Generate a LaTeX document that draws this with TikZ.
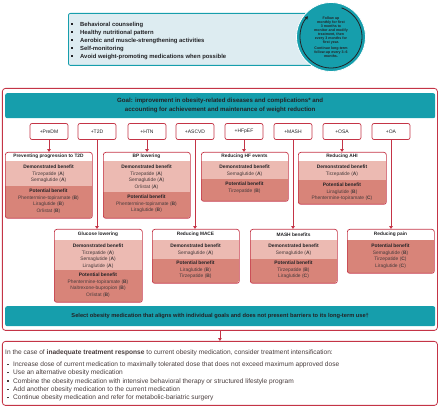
\documentclass[tikz,border=0pt]{standalone}
\usepackage{fontspec}
\setmainfont{Liberation Sans}
\usetikzlibrary{arrows.meta,positioning,calc}
\definecolor{obRed}{RGB}{196,52,70}
\definecolor{obTeal}{RGB}{22,158,172}
\definecolor{obLight}{RGB}{221,236,241}
\definecolor{demoFill}{RGB}{236,186,178}
\definecolor{potFill}{RGB}{216,132,121}
\definecolor{obText}{RGB}{35,35,38}
\definecolor{obGray}{RGB}{72,60,60}
\tikzset{
  tagbox/.style={draw=obRed, line width=0.7pt, fill=white, rounded corners=2pt, minimum width=38pt, minimum height=16pt, inner sep=0pt, font=\fontsize{5}{6}\selectfont, text=obText},
  panel/.style={draw=obRed, line width=0.7pt, rounded corners=2.5pt, inner sep=0pt, anchor=north west},
  paneltitle/.style={font=\bfseries\fontsize{4.8}{6}\selectfont, text=obText, inner sep=0pt},
  sect/.style={font=\fontsize{4.9}{6.5}\selectfont, align=center, text=obGray, inner sep=0pt, anchor=north},
  banner/.style={fill=obTeal, rounded corners=2pt, inner sep=0pt, anchor=north west, align=center, text=obText},
  arr/.style={obRed, line width=0.7pt, -{Triangle[width=3.4pt,length=2.8pt]}},
}
\newcommand{\hd}[1]{{\bfseries\color{obText}#1}}
\newcommand{\grade}[1]{(\textbf{#1})}
\newcommand{\lb}{\makebox[9pt][l]{\rule[1.3pt]{1.6pt}{1.6pt}}}
\newcommand{\bb}{\makebox[6pt][l]{\rule[1.4pt]{1.5pt}{1.5pt}}}
\newcommand{\tagNode}[3]{%
    \node[tagbox] (#1) at (#2,131.5) {#3};
}
% name, x left, y top, x right, y bottom, demo top, potential top, title
\newcommand{\benefitPanel}[8]{%
    \begin{scope}
      \clip[rounded corners=2.5pt] (#2,#3) rectangle (#4,#5);
      \fill[demoFill] (#2,#6) rectangle (#4,#7);
      \fill[potFill] (#2,#7) rectangle (#4,#5);
    \end{scope}
    \node[panel, minimum width={#4pt-#2pt}, minimum height={#5pt-#3pt}] (#1) at (#2,#3) {};
    \node[paneltitle] (#1T) at ($(#2,#3)!0.5!(#4,#6)$) {#8};
}

\begin{document}
\begin{tikzpicture}[x=1pt,y=-1pt]
    \useasboundingbox (0,0) rectangle (440,406);
    %lifestyle
    \node[draw=obTeal, line width=0.8pt, fill=obLight, rounded corners=2pt, minimum width=247pt, minimum height=52pt, anchor=north west] (life) at (68,13) {};
    \node[anchor=north west, inner sep=0pt, align=left, text=obText, font=\bfseries\fontsize{5.9}{8}\selectfont] (lifeList) at (71,21.8)
      {\lb Behavioral counseling\\\lb Healthy nutritional pattern\\\lb Aerobic and muscle-strengthening activities\\\lb Self-monitoring\\\lb Avoid weight-promoting medications when possible};
    \node[circle, fill=obTeal, draw=white, line width=0.8pt, minimum size=69pt, inner sep=0pt] (follow) at (331,37) {};
    \draw[obText, line width=0.8pt, -{Triangle[width=3.4pt,length=3pt]}] ([shift={(70:31pt)}]follow.center) arc[start angle=70, end angle=-222, radius=31pt];
    \node[align=center, inner sep=0pt, text=obText, font=\bfseries\fontsize{3.6}{4}\selectfont] (followTxt) at (follow.center)
      {Follow up\\monthly for first\\3 months to\\monitor and modify\\treatment, then\\every 3 months for\\first year.\\[2pt]Continue long-term\\follow-up every 3--6\\months.};
    %frame
    \node[draw=obRed, line width=0.8pt, rounded corners=3pt, minimum width=435pt, minimum height=242pt, anchor=north west, inner sep=0pt] (frame) at (2,88) {};
    \node[banner, minimum width=430pt, minimum height=25pt, font=\bfseries\fontsize{6.1}{9}\selectfont] (goal) at (5,93)
      {Goal: improvement in obesity-related diseases and complications* and\\accounting for achievement and maintenance of weight reduction};
    %tags
    \tagNode{tPreDM}{49}{+PreDM}
    \tagNode{tT2D}{97}{+T2D}
    \tagNode{tHTN}{147}{+HTN}
    \tagNode{tASCVD}{195}{+ASCVD}
    \tagNode{tHFpEF}{244}{+HFpEF}
    \tagNode{tMASH}{293}{+MASH}
    \tagNode{tOSA}{342}{+OSA}
    \tagNode{tOA}{391}{+OA}
    %row 1
    \benefitPanel{pPre}{5}{152}{92}{218}{161}{186}{Preventing progression to T2D}
    \node[sect] (pPreD) at (48.5,165.2) {\hd{Demonstrated benefit}\\Tirzepatide \grade{A}\\Semaglutide \grade{A}};
    \node[sect] (pPreP) at (48.5,189.2) {\hd{Potential benefit}\\Phentermine-topiramate \grade{B}\\Liraglutide \grade{B}\\Orlistat \grade{B}};
    \benefitPanel{pBP}{103}{152}{190}{218}{161}{192}{BP lowering}
    \node[sect] (pBPD) at (146.5,165.2) {\hd{Demonstrated benefit}\\Tirzepatide \grade{A}\\Semaglutide \grade{A}\\Orlistat \grade{A}};
    \node[sect] (pBPP) at (146.5,195.2) {\hd{Potential benefit}\\Phentermine-topiramate \grade{B}\\Liraglutide \grade{B}};
    \benefitPanel{pHF}{201}{152}{288}{201}{161}{179}{Reducing HF events}
    \node[sect] (pHFD) at (244.5,165.2) {\hd{Demonstrated benefit}\\Semaglutide \grade{A}};
    \node[sect] (pHFP) at (244.5,182.2) {\hd{Potential benefit}\\Tirzepatide \grade{B}};
    \benefitPanel{pAHI}{298}{152}{386}{204}{161}{180}{Reducing AHI}
    \node[sect] (pAHID) at (342,165.2) {\hd{Demonstrated benefit}\\Tirzepatide \grade{A}};
    \node[sect] (pAHIP) at (342,183.2) {\hd{Potential benefit}\\Liraglutide \grade{B}\\Phentermine-topiramate \grade{C}};
    %row 2
    \benefitPanel{pGlu}{54}{229}{142}{302}{240}{270}{Glucose lowering}
    \node[sect] (pGluD) at (98,244.2) {\hd{Demonstrated benefit}\\Tirzepatide \grade{A}\\Semaglutide \grade{A}\\Liraglutide \grade{A}};
    \node[sect] (pGluP) at (98,273.2) {\hd{Potential benefit}\\Phentermine-topiramate \grade{B}\\Naltrexone-bupropion \grade{B}\\Orlistat \grade{B}};
    \benefitPanel{pMACE}{152}{229}{239}{283}{240}{259}{Reducing MACE}
    \node[sect] (pMACED) at (195.5,244.2) {\hd{Demonstrated benefit}\\Semaglutide \grade{A}};
    \node[sect] (pMACEP) at (195.5,261.2) {\hd{Potential benefit}\\Liraglutide \grade{B}\\Tirzepatide \grade{B}};
    \benefitPanel{pMASH}{250}{229}{337}{283}{240}{259}{MASH benefits}
    \node[sect] (pMASHD) at (293.5,244.2) {\hd{Demonstrated benefit}\\Semaglutide \grade{A}};
    \node[sect] (pMASHP) at (293.5,261.2) {\hd{Potential benefit}\\Tirzepatide \grade{B}\\Liraglutide \grade{C}};
    \benefitPanel{pPain}{347}{229}{434}{273}{240}{240}{Reducing pain}
    \node[sect] (pPainP) at (390.5,244.2) {\hd{Potential benefit}\\Semaglutide \grade{B}\\Tirzepatide \grade{C}\\Liraglutide \grade{C}};
    %connectors
    \draw[arr] (tPreDM.south) -- (tPreDM.south |- pPre.north);
    \draw[arr] (tT2D.south) -- (tT2D.south |- pGlu.north);
    \draw[arr] (tHTN.south) -- (tHTN.south |- pBP.north);
    \draw[arr] (tASCVD.south) -- (tASCVD.south |- pMACE.north);
    \draw[arr] (tHFpEF.south) -- (tHFpEF.south |- pHF.north);
    \draw[arr] (tMASH.south) -- (tMASH.south |- pMASH.north);
    \draw[arr] (tOSA.south) -- (tOSA.south |- pAHI.north);
    \draw[arr] (tOA.south) -- (tOA.south |- pPain.north);
    %select
    \node[banner, minimum width=430pt, minimum height=20pt, font=\bfseries\fontsize{5.7}{7}\selectfont] (select) at (5,306)
      {Select obesity medication that aligns with individual goals and does not present barriers to its long-term use\textdagger};
    %intensification
    \node[draw=obRed, line width=0.8pt, rounded corners=3pt, minimum width=435pt, minimum height=64pt, anchor=north west, inner sep=0pt] (intens) at (2,341) {};
    \draw[arr] (frame.south) -- (intens.north);
    \node[anchor=north west, inner sep=0pt, text=obGray, font=\fontsize{6.6}{8.3}\selectfont] (intensHd) at (5,349.6)
      {In the case of \textbf{inadequate treatment response} to current obesity medication, consider treatment intensification:};
    \node[anchor=north west, inner sep=0pt, align=left, text=obGray, font=\fontsize{6.6}{8.3}\selectfont] (intensList) at (7,361.6)
      {\bb Increase dose of current medication to maximally tolerated dose that does not exceed maximum approved dose\\
       \bb Use an alternative obesity medication\\
       \bb Combine the obesity medication with intensive behavioral therapy or structured lifestyle program\\
       \bb Add another obesity medication to the current medication\\
       \bb Continue obesity medication and refer for metabolic-bariatric surgery};
\end{tikzpicture}
\end{document}
